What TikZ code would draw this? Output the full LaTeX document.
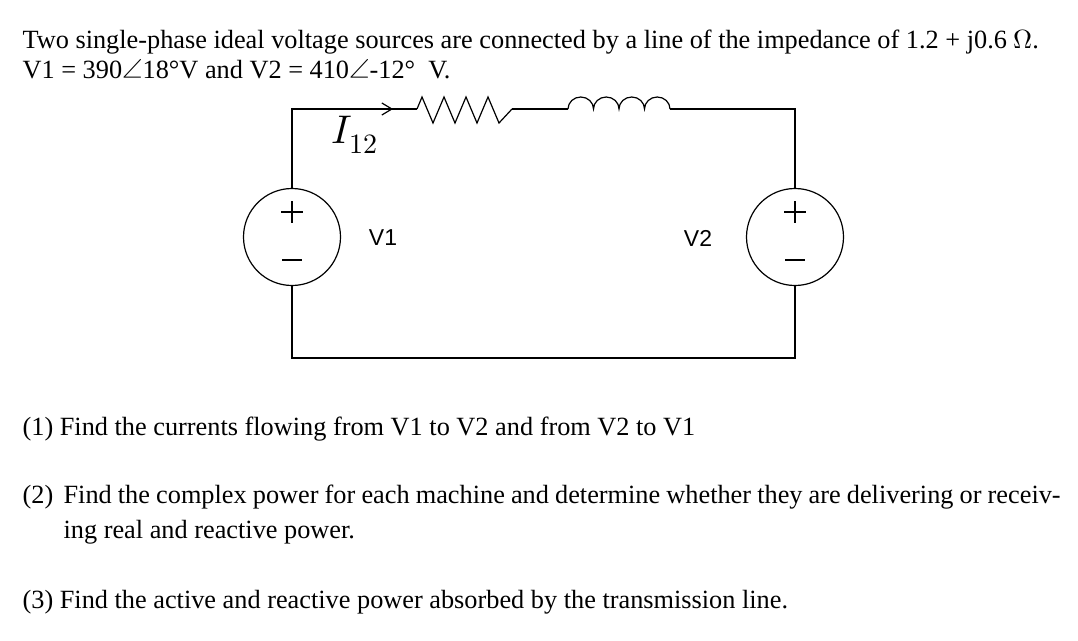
\documentclass[tikz,border=0pt]{standalone}
\usepackage{fontspec}
\usepackage{unicode-math}
\setmainfont{Liberation Serif}
\setmathfont{Latin Modern Math}
\newfontfamily\sansf{Liberation Sans}
\usetikzlibrary{arrows.meta}
\tikzset{every picture/.style={line width=1.2pt}}

\begin{document}
\begin{tikzpicture}[x=1pt,y=1pt,yscale=-1,xscale=1]
\path[use as bounding box] (0,0) rectangle (1078,640);
\tikzset{txt/.style={anchor=base west,inner sep=0pt,font=\fontsize{26.3}{35}\selectfont},
  src/.style={draw,circle,minimum size=97pt,inner sep=0pt},
  lbl/.style={inner sep=0pt,font=\sansf\fontsize{23}{26}\selectfont}}

%Corners
\coordinate (tl) at (292,109);
\coordinate (tr) at (795,109);
\coordinate (bl) at (292,358);
\coordinate (br) at (795,358);
\coordinate (ra) at (417,109);
\coordinate (rb) at (512,109);
\coordinate (la) at (568,109);
\coordinate (lb) at (670,109);

%Sources
\node[src,fill=white] (s1) at (292,237) {};
\node[src,fill=white] (s2) at (795,237) {};

%Wires
\draw (s1.north) -- (tl) -- (ra);
\draw (ra) -- ++(5,-12) -- ++(11,26) -- ++(11,-26) -- ++(11,26) -- ++(11,-26) -- ++(11,26) -- ++(11,-26) -- ++(11,26) -- (rb);
\draw (rb) -- (la);
\draw (la) arc[start angle=180,end angle=360,x radius=12.75,y radius=12]
  arc[start angle=180,end angle=360,x radius=12.75,y radius=12]
  arc[start angle=180,end angle=360,x radius=12.75,y radius=12]
  arc[start angle=180,end angle=360,x radius=12.75,y radius=12];
\draw (lb) -- (tr) -- (s2.north);
\draw (s1.south) -- (bl) -- (br) -- (s2.south);

%Current arrow
\coordinate (ia) at (366,109);
\coordinate (ib) at (393,109);
\draw[-{Straight Barb[length=10pt,width=12pt]},line width=1.2pt] (ia) -- (ib);
\node[inner sep=0pt,font=\fontsize{40}{40}\selectfont] (i12) at (355,135) {$I_{12}$};

%Signs
\foreach \s in {s1,s2}{
  \draw ([yshift=-25pt]\s.center) ++(-11,0) -- ++(22,0);
  \draw ([yshift=-36pt]\s.center) -- ++(0,22);
  \draw ([yshift=23pt]\s.center) ++(-10,0) -- ++(20,0);
}
\node[lbl] (v1) at (383,238) {V1};
\node[lbl] (v2) at (698,238) {V2};

% Text
\node[txt] (t1) at (22,48) {Two single-phase ideal voltage sources are connected by a line of the impedance of 1.2 + j0.6 $\Omega$.};
\node[txt] (t2) at (22,78) {V1 = 390$\angle$18°V and V2 = 410$\angle$-12°\ \ V.};
\node[txt] (q1) at (22,435) {(1) Find the currents flowing from V1 to V2 and from V2 to V1};
\node[txt] (q2n) at (22,503) {(2)};
\node[txt,anchor=base west,text width=997pt,align=justify] (q2) at (63,503) {Find the complex power for each machine and determine whether they are delivering or receiving real and reactive power.};
\node[txt] (q3) at (22,608) {(3) Find the active and reactive power absorbed by the transmission line.};
\end{tikzpicture}
\end{document}
